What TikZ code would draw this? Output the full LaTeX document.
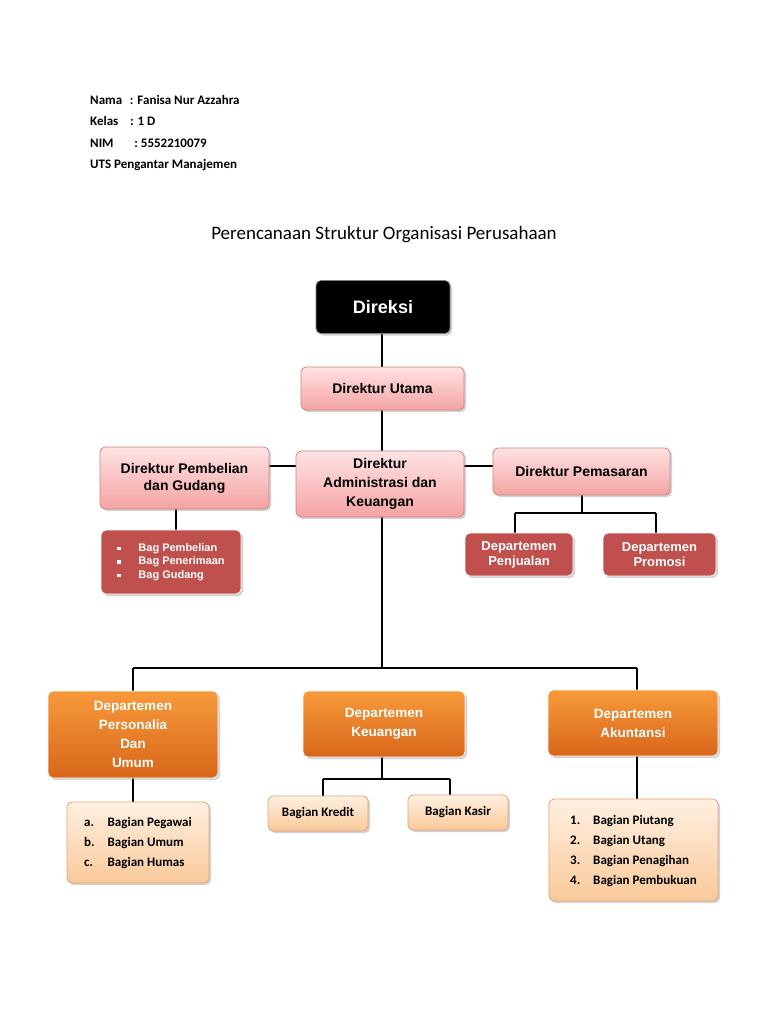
\documentclass[tikz,border=0pt]{standalone}
\usepackage{fontspec}
\setmainfont{Carlito}
\newfontfamily\arialf{Liberation Sans}
\usetikzlibrary{shadows}
\definecolor{pinkT}{HTML}{FFE3E3}
\definecolor{pinkB}{HTML}{F4A3A3}
\definecolor{redbox}{HTML}{C0504D}
\definecolor{orT}{HTML}{F79A3A}
\definecolor{orB}{HTML}{D8661A}
\definecolor{peT}{HTML}{FFF0E0}
\definecolor{peB}{HTML}{F9C99A}
\newcommand{\sqbul}{\rule[1pt]{3.5pt}{3.5pt}}
\begin{document}
\begin{tikzpicture}[x=1pt,y=-1pt,
  box/.style={rounded corners=5pt,draw=white,line width=0.8pt,
    drop shadow={shadow xshift=2pt,shadow yshift=-2pt,opacity=0.35},
    font=\arialf\bfseries,align=center,inner sep=0pt},
  pinkbox/.style={box,top color=pinkT,bottom color=pinkB,draw=redbox!70,font=\arialf\bfseries\fontsize{14}{17}\selectfont},
  redb/.style={box,fill=redbox,text=white,font=\arialf\bfseries\fontsize{13}{15}\selectfont},
  orbox/.style={box,top color=orT,bottom color=orB,text=white,font=\arialf\bfseries\fontsize{13.5}{19}\selectfont},
  pebox/.style={box,top color=peT,bottom color=peB,draw=orB!60,font=\bfseries\fontsize{13}{20}\selectfont},
  ln/.style={line width=1.6pt}]
\useasboundingbox (0,0) rectangle (768,1024);
\fill[white] (0,0) rectangle (768,1024);
% header
\node[anchor=north west,align=left,font=\bfseries\fontsize{13}{21.5}\selectfont,inner sep=0pt] (hdr) at (90,95)
 {Nama\hspace{0.6em}: Fanisa Nur Azzahra\\Kelas\hspace{0.9em}: 1 D\\NIM\hspace{1.6em}: 5552210079\\UTS Pengantar Manajemen};
\node[font=\fontsize{19}{22}\selectfont] (title) at (384,235) {Perencanaan Struktur Organisasi Perusahaan};
% lines
\coordinate (h1) at (133,668); \coordinate (h2) at (637,668);
\coordinate (p1) at (515,513); \coordinate (p2) at (656,513);
\coordinate (k1) at (323,779); \coordinate (k2) at (450,779);
\draw[ln] (382,334) -- (382,668);
\draw[ln] (h1) -- (h2);
\draw[ln] (133,668) -- (133,802);
\draw[ln] (637,668) -- (637,799);
\draw[ln] (269,466) -- (493,466);
\draw[ln] (176,509) -- (176,530);
\draw[ln] (582,495) -- (582,513);
\draw[ln] (p1) -- (p2); \draw[ln] (p1) -- (515,533); \draw[ln] (p2) -- (656,533);
\draw[ln] (382,757) -- (382,779);
\draw[ln] (k1) -- (k2); \draw[ln] (k1) -- (323,796); \draw[ln] (k2) -- (450,796);
% boxes
\node[box,fill=black,text=white,draw=gray,minimum width=134pt,minimum height=53pt,font=\arialf\bfseries\fontsize{18}{20}\selectfont] (direksi) at (383,307) {Direksi};
\node[pinkbox,minimum width=163pt,minimum height=43pt] (utama) at (382.5,388.5) {Direktur Utama};
\node[pinkbox,minimum width=169pt,minimum height=62pt] (pemb) at (184.5,478) {Direktur Pembelian\\dan Gudang};
\node[pinkbox,minimum width=168pt,minimum height=66pt,font=\arialf\bfseries\fontsize{14}{19}\selectfont] (adm) at (380,484) {Direktur\\Administrasi dan\\Keuangan};
\node[pinkbox,minimum width=177pt,minimum height=47pt] (pem) at (581.5,471.5) {Direktur Pemasaran};
\node[redb,minimum width=140pt,minimum height=64pt,align=left,font=\arialf\bfseries\fontsize{11}{13.5}\selectfont] (bag) at (171,562)
 {\begin{tabular}{@{}l@{\hspace{1.6em}}l@{}}\sqbul&Bag Pembelian\\\sqbul&Bag Penerimaan\\\sqbul&Bag Gudang\end{tabular}};
\node[redb,minimum width=108pt,minimum height=43pt] (penj) at (519,554.5) {Departemen\\Penjualan};
\node[redb,minimum width=113pt,minimum height=43pt] (prom) at (659.5,554.5) {Departemen\\Promosi};
\node[orbox,minimum width=170pt,minimum height=87pt] (pers) at (133,734.5) {Departemen\\Personalia\\Dan\\Umum};
\node[orbox,minimum width=162pt,minimum height=66pt] (keu) at (384,724) {Departemen\\Keuangan};
\node[orbox,minimum width=170pt,minimum height=66pt] (akt) at (633,723) {Departemen\\Akuntansi};
\node[pebox,minimum width=100pt,minimum height=35pt] (kred) at (318,813.5) {Bagian Kredit};
\node[pebox,minimum width=100pt,minimum height=35pt] (kas) at (458,812.5) {Bagian Kasir};
\node[pebox,minimum width=142pt,minimum height=81pt,align=left] (lst1) at (138,842.5)
 {\begin{tabular}{@{}l@{\hspace{1em}}l@{}}a.&Bagian Pegawai\\b.&Bagian Umum\\c.&Bagian Humas\end{tabular}};
\node[pebox,minimum width=169pt,minimum height=102pt,align=left] (lst2) at (633.5,850)
 {\begin{tabular}{@{}l@{\hspace{1em}}l@{}}1.&Bagian Piutang\\2.&Bagian Utang\\3.&Bagian Penagihan\\4.&Bagian Pembukuan\end{tabular}};
\end{tikzpicture}
\end{document}
